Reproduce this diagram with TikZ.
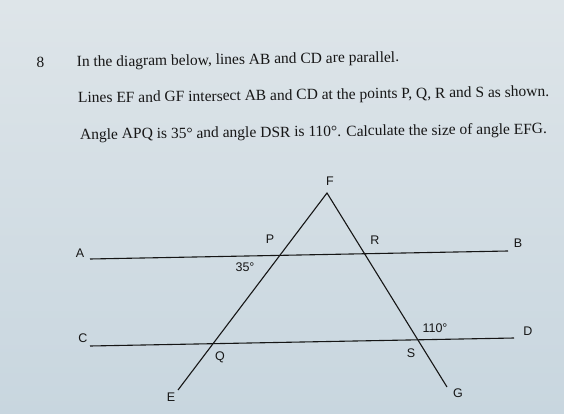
\documentclass[tikz,border=0pt]{standalone}
\usepackage{fontspec}
\setmainfont{Liberation Serif}
\newfontfamily\labfont{Liberation Sans}
\definecolor{bgtop}{RGB}{222,229,233}
\definecolor{bgmid}{RGB}{234,239,242}
\definecolor{bgbot}{RGB}{200,214,223}
\definecolor{ink}{RGB}{22,22,22}
\begin{document}
\begin{tikzpicture}[x=1pt,y=-1pt,
  qtext/.style={inner sep=0pt, font=\fontsize{15.5}{18}\selectfont, text=ink, anchor=base west},
  lab/.style={inner sep=0pt, font=\labfont\fontsize{12.5}{14}\selectfont, text=ink},
  geo/.style={draw=ink, line width=1.1pt}]
\useasboundingbox (0,0) rectangle (564,414);
\shade[top color=bgtop, middle color=bgmid, bottom color=bgbot] (0,0) rectangle (564,414);

% question text
\node[qtext, rotate=0.9] (num) at (36.5,68) {8};
\node[qtext, rotate=0.9] (line1) at (76.7,67) {In the diagram below, lines AB and CD are parallel.};
\node[qtext, rotate=0.8] (line2) at (78,103) {Lines EF and GF intersect AB and CD at the points P, Q, R and S as shown.};
\node[qtext, rotate=0.7] (line3) at (80,139.5) {Angle APQ is 35° and angle DSR is 110°. Calculate the size of angle EFG.};

% line end points
\coordinate (A0) at (90,259);
\coordinate (B0) at (508,251);
\coordinate (C0) at (90,346);
\coordinate (D0) at (514,338);
\coordinate (F0) at (327,193);
\coordinate (E0) at (178,390);
\coordinate (G0) at (447,387);

\draw[geo] (A0) -- (B0);
\draw[geo] (C0) -- (D0);
\draw[geo, line join=miter] (E0) -- (F0) -- (G0);

% labels
\node[lab] (labF) at (330,181) {F};
\node[lab] (labP) at (270,239) {P};
\node[lab] (labR) at (375,240) {R};
\node[lab] (labA) at (80,253) {A};
\node[lab] (labB) at (518,243) {B};
\node[lab] (ang35) at (245,267) {35°};
\node[lab] (labC) at (83,338) {C};
\node[lab] (labD) at (528,331) {D};
\node[lab] (labQ) at (220,357) {Q};
\node[lab] (labS) at (411,353) {S};
\node[lab] (labE) at (171,397) {E};
\node[lab] (labG) at (458,393) {G};
\node[lab] (ang110) at (435,328) {110°};
\end{tikzpicture}
\end{document}
